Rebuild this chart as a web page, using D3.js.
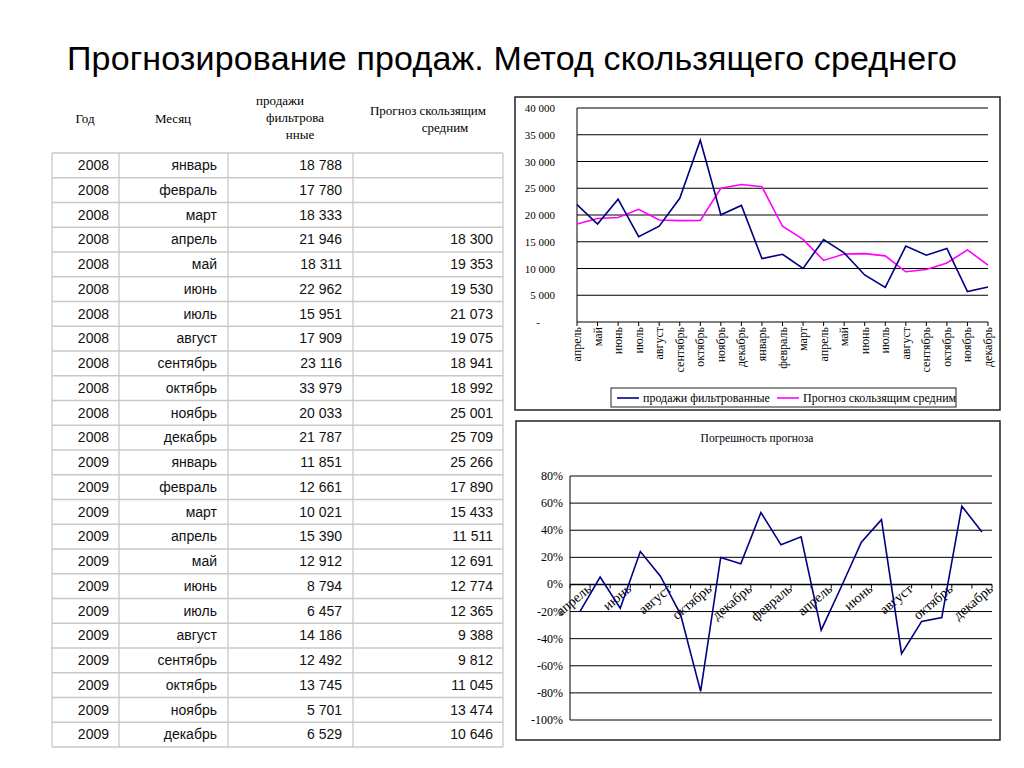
<!DOCTYPE html>
<html><head><meta charset="utf-8">
<script src="https://cdn.jsdelivr.net/npm/d3@7/dist/d3.min.js"></script>
<style>body{margin:0;background:#fff}svg{display:block}</style>
</head><body>
<svg id="c" width="1024" height="768"></svg>
<script>
// --- Data ---
const years = ['2008','2008','2008','2008','2008','2008','2008','2008','2008','2008','2008','2008',
  '2009','2009','2009','2009','2009','2009','2009','2009','2009','2009','2009','2009'];
const months = ['январь','февраль','март','апрель','май','июнь','июль','август','сентябрь','октябрь','ноябрь','декабрь',
  'январь','февраль','март','апрель','май','июнь','июль','август','сентябрь','октябрь','ноябрь','декабрь'];
const sales = [18788,17780,18333,21946,18311,22962,15951,17909,23116,33979,20033,21787,
  11851,12661,10021,15390,12912,8794,6457,14186,12492,13745,5701,6529];
const forecast = [null,null,null,18300,19353,19530,21073,19075,18941,18992,25001,25709,
  25266,17890,15433,11511,12691,12774,12365,9388,9812,11045,13474,10646];
const errorPct = [-19.9,5.4,-17.6,24.3,6.1,-22.0,-78.9,19.9,15.3,53.1,29.2,35.1,
  -33.7,-1.7,31.2,47.8,-51.1,-27.3,-24.4,57.7,38.7];

const svg = d3.select('#c');
const fmt = v => d3.format(',')(v).replace(/,/g, ' ');
const serif = '"Liberation Serif", "Times New Roman", serif';
const sans = '"Liberation Sans", Arial, sans-serif';

// --- Title ---
svg.append('text').attr('x', 67).attr('y', 70).attr('font-family', sans).attr('font-size', 34)
  .attr('textLength', 890).text('Прогнозирование продаж. Метод скользящего среднего');

// --- Table ---
const colX = [52, 119, 228, 353, 503];
const rowTop = 153, rowH = 24.75;
const rowY = d3.scaleLinear().domain([0, 24]).range([rowTop, rowTop + 24 * rowH]);
const tbl = svg.append('g');
const hdr = [
  {x: 85, lines: ['Год'], y: 123},
  {x: 173, lines: ['Месяц'], y: 123},
  {x: 290, lines: ['продажи', 'фильтрова', 'нные'], y: 105},
  {x: 428, lines: ['Прогноз скользящим', 'средним'], y: 115}
];
hdr.forEach(h => h.lines.forEach((l, i) => {
  const dx = h.lines.length === 3 ? [-10, 5, 10][i] : (h.lines.length === 2 ? [0, 17][i] : 0);
  tbl.append('text').attr('x', h.x + dx).attr('y', h.y + i * 17).attr('text-anchor', 'middle')
    .attr('font-family', serif).attr('font-size', 13).text(l);
}));
d3.range(25).forEach(i => tbl.append('line').attr('x1', colX[0]).attr('x2', colX[4])
  .attr('y1', rowY(i)).attr('y2', rowY(i)).attr('stroke', '#c8c8c8').attr('stroke-width', 1.3));
colX.forEach(x => tbl.append('line').attr('x1', x).attr('x2', x).attr('y1', rowTop).attr('y2', rowY(24))
  .attr('stroke', '#c8c8c8').attr('stroke-width', 1.3));
const cols = [
  {x: 109, get: i => years[i]},
  {x: 217, get: i => months[i]},
  {x: 342, get: i => fmt(sales[i])},
  {x: 493, get: i => forecast[i] == null ? '' : fmt(forecast[i])}
];
d3.range(24).forEach(i => cols.forEach(c => tbl.append('text').attr('x', c.x).attr('y', rowY(i) + 17)
  .attr('text-anchor', 'end').attr('font-family', sans).attr('font-size', 14).attr('fill', '#111').text(c.get(i))));

// --- Top chart ---
svg.append('rect').attr('x', 515).attr('y', 97).attr('width', 485).attr('height', 313)
  .attr('fill', 'none').attr('stroke', '#222').attr('stroke-width', 1.5);
const idx = d3.range(3, 24);
const x1 = d3.scalePoint().domain(idx).range([577, 988]);
const y1 = d3.scaleLinear().domain([0, 40000]).range([322, 108]);
const g1 = svg.append('g');
y1.ticks(8).forEach(t => {
  g1.append('line').attr('x1', 577).attr('x2', 988).attr('y1', y1(t)).attr('y2', y1(t)).attr('stroke', '#000').attr('stroke-width', 1);
  g1.append('text').attr('x', t === 0 ? 540 : 555).attr('y', y1(t) + 4).attr('text-anchor', 'end')
    .attr('font-family', serif).attr('font-size', 11).text(t === 0 ? '-' : fmt(t));
});
g1.append('line').attr('x1', 577).attr('x2', 577).attr('y1', 108).attr('y2', 322).attr('stroke', '#000');
idx.forEach(i => {
  g1.append('line').attr('x1', x1(i)).attr('x2', x1(i)).attr('y1', 322).attr('y2', 326).attr('stroke', '#000');
  g1.append('text').attr('transform', `translate(${x1(i) + 4},327) rotate(-90)`).attr('text-anchor', 'end')
    .attr('font-family', serif).attr('font-size', 12).text(months[i]);
});
const line1 = d3.line().x(i => x1(i));
g1.append('path').attr('d', line1.y(i => y1(forecast[i]))(idx)).attr('fill', 'none').attr('stroke', '#ff00ff').attr('stroke-width', 1.6);
g1.append('path').attr('d', line1.y(i => y1(sales[i]))(idx)).attr('fill', 'none').attr('stroke', '#000080').attr('stroke-width', 1.6);
// legend
g1.append('rect').attr('x', 611).attr('y', 388).attr('width', 345).attr('height', 19).attr('fill', '#fff').attr('stroke', '#222');
[['продажи фильтрованные', '#000080', 617], ['Прогноз скользящим средним', '#ff00ff', 777]].forEach(([t, c, x]) => {
  g1.append('line').attr('x1', x).attr('x2', x + 22).attr('y1', 398).attr('y2', 398).attr('stroke', c).attr('stroke-width', 1.6);
  g1.append('text').attr('x', x + 26).attr('y', 402).attr('font-family', serif).attr('font-size', 12).text(t);
});

// --- Bottom chart ---
svg.append('rect').attr('x', 516).attr('y', 421).attr('width', 484).attr('height', 319)
  .attr('fill', 'none').attr('stroke', '#222').attr('stroke-width', 1.5);
const g2 = svg.append('g');
g2.append('text').attr('x', 757).attr('y', 442).attr('text-anchor', 'middle').attr('font-family', serif).attr('font-size', 11.5).text('Погрешность прогноза');
const eIdx = d3.range(errorPct.length);
const x2 = d3.scaleBand().domain(eIdx).range([570, 992]);
const y2 = d3.scaleLinear().domain([-100, 80]).range([720, 476]);
d3.range(-100, 81, 20).forEach(t => {
  g2.append('line').attr('x1', 570).attr('x2', 992).attr('y1', y2(t)).attr('y2', y2(t)).attr('stroke', '#000').attr('stroke-width', t === 0 ? 1.5 : 1);
  g2.append('text').attr('x', 563).attr('y', y2(t) + 4).attr('text-anchor', 'end').attr('font-family', serif).attr('font-size', 12).text(t + '%');
});
g2.append('line').attr('x1', 570).attr('x2', 570).attr('y1', 476).attr('y2', 720).attr('stroke', '#000');
d3.range(errorPct.length + 1).forEach(k => {
  const x = 570 + k * x2.step();
  g2.append('line').attr('x1', x).attr('x2', x).attr('y1', y2(0)).attr('y2', y2(0) + 4).attr('stroke', '#000');
});
eIdx.filter(i => i % 2 === 0).forEach(i => {
  g2.append('text').attr('transform', `translate(${x2(i) + x2.bandwidth() / 2 + 12},${y2(0) + 6}) rotate(-40)`)
    .attr('text-anchor', 'end').attr('font-family', serif).attr('font-size', 14).text(months[i + 3]);
});
g2.append('path').attr('d', d3.line().x(i => x2(i) + x2.bandwidth() / 2).y(i => y2(errorPct[i]))(eIdx))
  .attr('fill', 'none').attr('stroke', '#000080').attr('stroke-width', 1.6);
</script>
</body></html>
